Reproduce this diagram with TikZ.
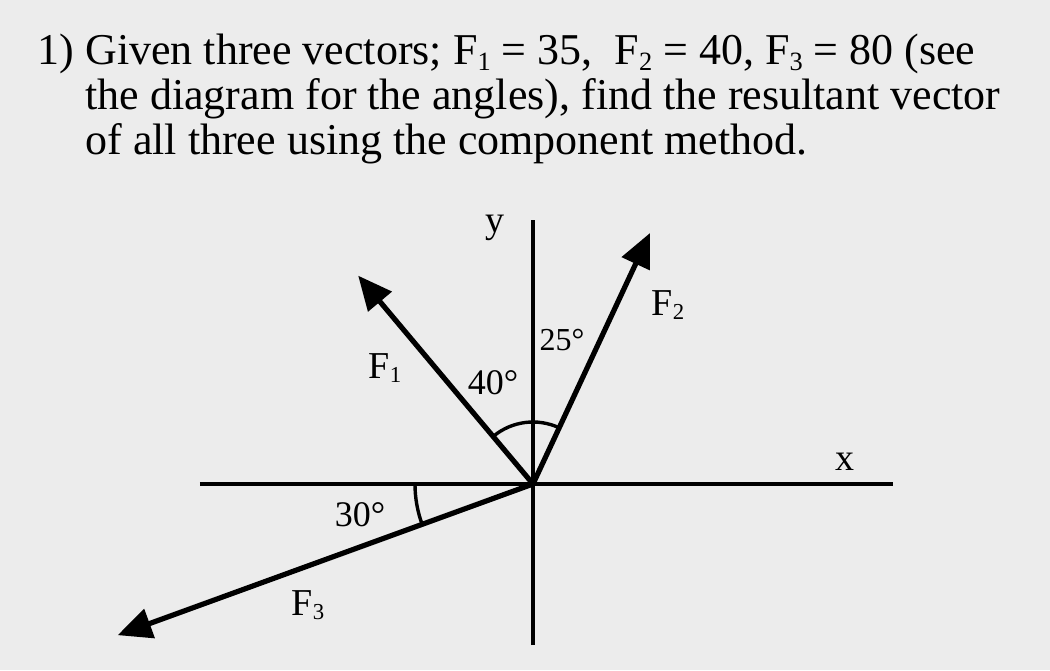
\documentclass[tikz,border=0pt]{standalone}
\usepackage{fontspec}
\setmainfont{Liberation Serif}
\usepackage{xcolor}
\usepackage{graphicx}
\usetikzlibrary{arrows.meta}
\definecolor{paper}{RGB}{236,236,236}
\newcommand{\idx}[1]{\raisebox{-0.12em}{\scalebox{0.6}{#1}}}

\begin{document}
\begin{tikzpicture}[x=0.5pt,y=0.5pt,
	axisline/.style={line width=2pt},
	vec/.style={line width=2.6pt,-{Triangle[length=17pt,width=15pt]}},
	angarc/.style={line width=1.7pt},
	lbl/.style={inner sep=0pt,font=\fontsize{19}{22}\selectfont},
	anglbl/.style={inner sep=0pt,font=\fontsize{18}{20}\selectfont},
	txt/.style={inner sep=0pt,anchor=base west,align=left,font=\fontsize{22}{22.5}\selectfont}]
	\fill[paper] (-533,-186) rectangle (517,484);
	\useasboundingbox (-533,-186) rectangle (517,484);

	% question text (base anchor sits on the last line)
	\node[txt] (num) at (-496,419) {1)};
	\node[txt] (question) at (-448,329) {Given three vectors; F\idx{1} = 35,\ \ F\idx{2} = 40, F\idx{3} = 80 (see\\
		the diagram for the angles), find the resultant vector\\
		of all three using the component method.};

	% axes
	\coordinate (O) at (0,0);
	\coordinate (xl) at (-333,0);
	\coordinate (xr) at (360,0);
	\coordinate (yt) at (0,264);
	\coordinate (yb) at (0,-161);
	\draw[axisline] (xl) -- (xr);
	\draw[axisline] (yb) -- (yt);
	\node[lbl] (ylab) at (-38,256) {y};
	\node[lbl] (xlab) at (312,22) {x};

	% vectors
	\coordinate (F1) at (130:272);
	\coordinate (F2) at (65:277);
	\coordinate (F3) at (200:442);
	\draw[vec] (O) -- (F1);
	\draw[vec] (O) -- (F2);
	\draw[vec] (O) -- (F3);
	\node[lbl] (f1lab) at (-148,116) {F\idx{1}};
	\node[lbl] (f2lab) at (135,179) {F\idx{2}};
	\node[lbl] (f3lab) at (-225,-121) {F\idx{3}};

	% angles
	\draw[angarc] (130:62) arc[start angle=130,end angle=65,radius=62];
	\draw[angarc] (180:118) arc[start angle=180,end angle=200,radius=118];
	\node[anglbl,font=\fontsize{16}{18}\selectfont] (a25) at (29,144) {25°};
	\node[anglbl] (a40) at (-40,101) {40°};
	\node[anglbl] (a30) at (-173,-31) {30°};
\end{tikzpicture}
\end{document}
